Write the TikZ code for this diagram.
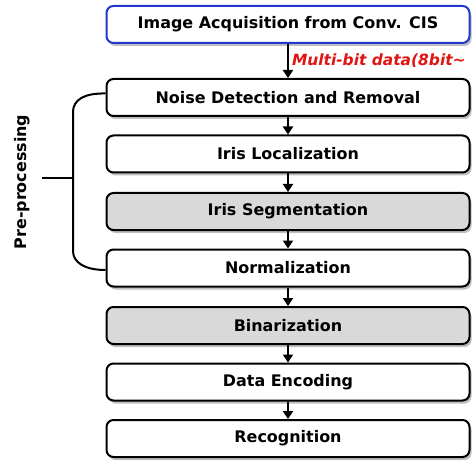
\documentclass[tikz,border=0pt]{standalone}
\usepackage{fontspec}
\setmainfont{DejaVu Sans}
\definecolor{acqblue}{RGB}{35,55,205}
\definecolor{stepgray}{RGB}{217,217,217}
\definecolor{datared}{RGB}{225,20,20}
\usetikzlibrary{arrows.meta,positioning,shadows}

\begin{document}
\begin{tikzpicture}[x=1bp,y=-1bp,
  stagebox/.style={draw=black, line width=2bp, rounded corners=7bp, fill=white,
    minimum width=363bp, minimum height=37bp, inner sep=0pt,
    font=\bfseries\fontsize{16}{18}\selectfont,
    drop shadow={shadow xshift=2bp, shadow yshift=-3bp, opacity=0.25, fill=black}},
  grayfill/.style={fill=stepgray},
  flowarrow/.style={line width=2bp, -{Triangle[width=10bp,length=8bp]}},
  bracket/.style={line width=2bp},
  datalabel/.style={font=\bfseries\itshape\fontsize{15.5}{18}\selectfont, text=datared, inner sep=3bp}]

  % Canvas
  \fill[white] (0,0) rectangle (474,474);
  \clip (0,0) rectangle (474,474);

  % Stages
  \node[stagebox, draw=acqblue] (acq) at (288,24.5) {Image Acquisition from Conv. CIS};
  \node[stagebox] (noise) at (288,97.5) {Noise Detection and Removal};
  \node[stagebox] (irisloc) at (288,154) {Iris Localization};
  \node[stagebox, grayfill] (irisseg) at (288,211.5) {Iris Segmentation};
  \node[stagebox] (norm) at (288,268) {Normalization};
  \node[stagebox, grayfill] (binar) at (288,325.5) {Binarization};
  \node[stagebox] (encode) at (288,382) {Data Encoding};
  \node[stagebox] (recog) at (288,438.5) {Recognition};

  % Flow arrows
  \draw[flowarrow] (acq) -- node[right, datalabel] {Multi-bit data(8bit\textasciitilde} (noise);
  \draw[flowarrow] (noise) -- (irisloc);
  \draw[flowarrow] (irisloc) -- (irisseg);
  \draw[flowarrow] (irisseg) -- (norm);
  \draw[flowarrow] (norm) -- (binar);
  \draw[flowarrow] (binar) -- (encode);
  \draw[flowarrow] (encode) -- (recog);

  % Pre-processing bracket
  \coordinate (pretop) at (73,112);
  \coordinate (prebot) at (73,251);
  \coordinate (prestem) at (73,178);
  \coordinate (stemend) at (42,178);
  \draw[bracket] ([yshift=4bp]noise.west) .. controls (84,93) and (73,100) .. (pretop)
    -- (prebot) .. controls (73,262) and (84,270) .. ([yshift=-2bp]norm.west);
  \draw[bracket] (prestem) -- (stemend);
  \node[rotate=90, font=\bfseries\fontsize{16}{18}\selectfont] (prep) at (22,182) {Pre-processing};
\end{tikzpicture}
\end{document}
